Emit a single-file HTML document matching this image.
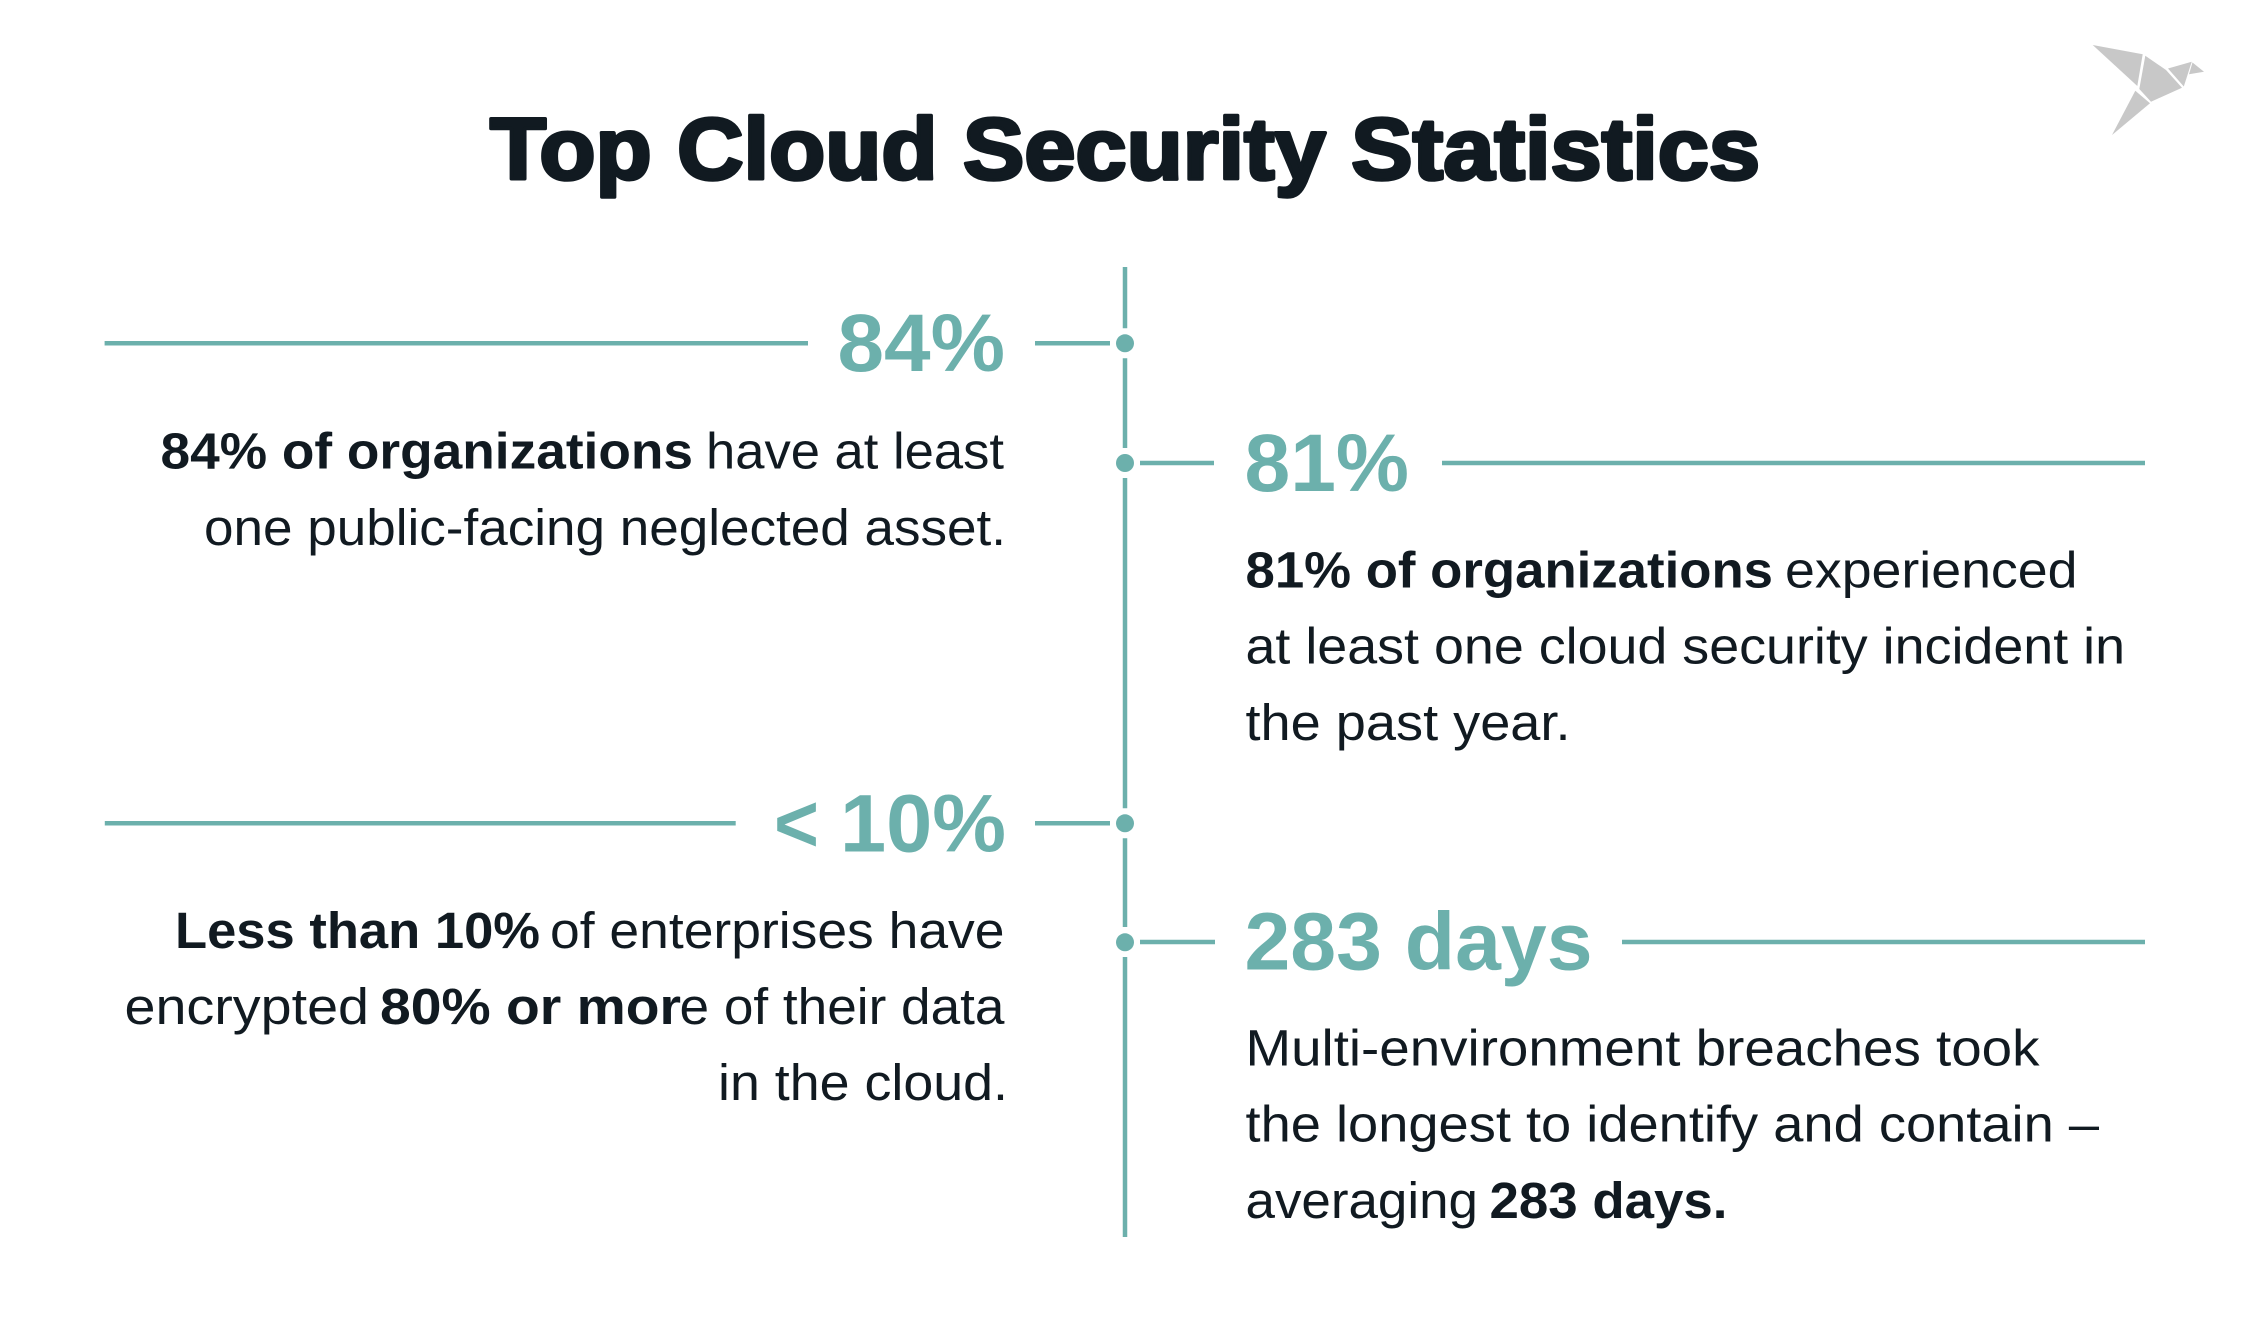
<!DOCTYPE html>
<html>
<head>
<meta charset="utf-8">
<style>
  html, body { margin: 0; padding: 0; background: #ffffff; }
  body { width: 2250px; height: 1343px; overflow: hidden; }
  svg { display: block; }
  .title { font-family: "Liberation Sans", Arial, sans-serif; font-weight: 700; fill: #111a21; stroke: #111a21; stroke-width: 3.5; stroke-linejoin: round; }
  .big { font-family: "Liberation Sans", Arial, sans-serif; font-weight: 700; fill: #6cb0ac; font-size: 82px; }
  .b { font-family: "Liberation Sans", Arial, sans-serif; font-weight: 700; fill: #111a21; font-size: 51px; }
  .r { font-family: "Liberation Sans", Arial, sans-serif; font-weight: 400; fill: #111a21; font-size: 51px; }
</style>
</head>
<body>
<svg width="2250" height="1343" viewBox="0 0 2250 1343" xmlns="http://www.w3.org/2000/svg">
  <rect x="0" y="0" width="2250" height="1343" fill="#ffffff"/>

  <!-- Bird logo -->
  <g fill="#c8c8c8">
    <polygon points="2092.7,45 2142.7,54.3 2137.3,86"/>
    <polygon points="2145.3,55.7 2139.3,89 2151,101.7 2182,87.7 2166,70"/>
    <polygon points="2168,68.5 2191.7,61.7 2187.5,75 2183.8,86.5"/>
    <polygon points="2192.5,62.5 2204,71.7 2189,74.3"/>
    <polygon points="2135.3,90.7 2150,103.3 2112,135"/>
  </g>

  <!-- Title -->
  <text class="title" x="490" y="179" font-size="87" textLength="1270" lengthAdjust="spacingAndGlyphs">Top Cloud Security Statistics</text>

  <!-- Central vertical line with gaps around dots -->
  <g stroke="#6cb0ac" stroke-width="4.5" fill="none">
    <line x1="1125" y1="267" x2="1125" y2="328.3"/>
    <line x1="1125" y1="358.3" x2="1125" y2="448"/>
    <line x1="1125" y1="478" x2="1125" y2="808.3"/>
    <line x1="1125" y1="838.3" x2="1125" y2="927"/>
    <line x1="1125" y1="957" x2="1125" y2="1237"/>

    <!-- Row 1 -->
    <line x1="104.6" y1="343.3" x2="808" y2="343.3"/>
    <line x1="1035" y1="343.3" x2="1110" y2="343.3"/>
    <!-- Row 2 -->
    <line x1="1140" y1="463" x2="1214" y2="463"/>
    <line x1="1442" y1="463" x2="2145" y2="463"/>
    <!-- Row 3 -->
    <line x1="104.8" y1="823.3" x2="735.7" y2="823.3"/>
    <line x1="1035" y1="823.3" x2="1110" y2="823.3"/>
    <!-- Row 4 -->
    <line x1="1140" y1="942" x2="1215" y2="942"/>
    <line x1="1622" y1="942" x2="2145" y2="942"/>
  </g>
  <g fill="#6cb0ac">
    <circle cx="1125" cy="343.3" r="9"/>
    <circle cx="1125" cy="463" r="9"/>
    <circle cx="1125" cy="823.3" r="9"/>
    <circle cx="1125" cy="942.3" r="9"/>
  </g>

  <!-- Big numbers -->
  <text class="big" x="837.5" y="371" textLength="167.5" lengthAdjust="spacingAndGlyphs">84%</text>
  <text class="big" x="1244.5" y="491" textLength="164.5" lengthAdjust="spacingAndGlyphs">81%</text>
  <text class="big" x="774" y="851.5" textLength="45" lengthAdjust="spacingAndGlyphs">&lt;</text>
  <text class="big" x="840" y="851.5" textLength="166" lengthAdjust="spacingAndGlyphs">10%</text>
  <text class="big" x="1244.5" y="969.5" textLength="348" lengthAdjust="spacingAndGlyphs">283 days</text>

  <!-- Left paragraph 1 -->
  <text class="b" x="160.5" y="468.5" textLength="532.5" lengthAdjust="spacingAndGlyphs">84% of organizations</text>
  <text class="r" x="706" y="468.5" textLength="298" lengthAdjust="spacingAndGlyphs">have at least</text>
  <text class="r" x="204" y="545" textLength="802" lengthAdjust="spacingAndGlyphs">one public-facing neglected asset.</text>

  <!-- Right paragraph 1 -->
  <text class="b" x="1245.5" y="587.5" textLength="527.5" lengthAdjust="spacingAndGlyphs">81% of organizations</text>
  <text class="r" x="1785" y="587.5" textLength="292.5" lengthAdjust="spacingAndGlyphs">experienced</text>
  <text class="r" x="1245.5" y="663.5" textLength="879.5" lengthAdjust="spacingAndGlyphs">at least one cloud security incident in</text>
  <text class="r" x="1245.5" y="740" textLength="325" lengthAdjust="spacingAndGlyphs">the past year.</text>

  <!-- Left paragraph 2 -->
  <text class="b" x="175" y="948" textLength="365" lengthAdjust="spacingAndGlyphs">Less than 10%</text>
  <text class="r" x="550" y="948" textLength="454.5" lengthAdjust="spacingAndGlyphs">of enterprises have</text>
  <text class="r" x="124.5" y="1024" textLength="244.5" lengthAdjust="spacingAndGlyphs">encrypted</text>
  <text class="b" x="380" y="1024" textLength="301" lengthAdjust="spacingAndGlyphs">80% or mor</text>
  <text class="r" x="679.5" y="1024" textLength="325" lengthAdjust="spacingAndGlyphs">e of their data</text>
  <text class="r" x="718" y="1100" textLength="290" lengthAdjust="spacingAndGlyphs">in the cloud.</text>

  <!-- Right paragraph 2 -->
  <text class="r" x="1245.5" y="1065.5" textLength="794" lengthAdjust="spacingAndGlyphs">Multi-environment breaches took</text>
  <text class="r" x="1245.5" y="1141.5" textLength="853.5" lengthAdjust="spacingAndGlyphs">the longest to identify and contain –</text>
  <text class="r" x="1245.5" y="1218" textLength="232.5" lengthAdjust="spacingAndGlyphs">averaging</text>
  <text class="b" x="1489.5" y="1218" textLength="238" lengthAdjust="spacingAndGlyphs">283 days.</text>
</svg>
</body>
</html>
